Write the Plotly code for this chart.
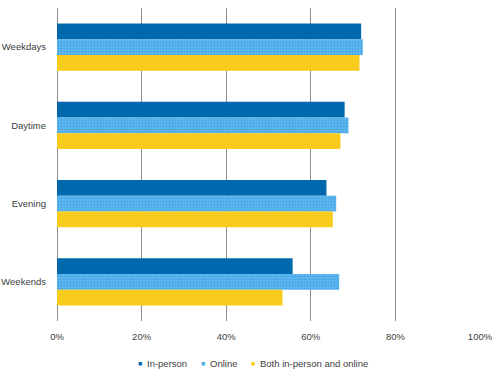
import plotly.graph_objects as go

categories = ["Weekdays", "Daytime", "Evening", "Weekends"]
in_person = [71.9, 68.0, 63.7, 55.7]
online = [72.3, 68.9, 66.0, 66.7]
both = [71.5, 67.0, 65.2, 53.3]
tick_vals = [0, 20, 40, 60, 80, 100]
tick_text = ["0%", "20%", "40%", "60%", "80%", "100%"]
series_names = ["In-person", "Online", "Both in-person and online"]
series_colors = ["#0068AC", "#4FAEEC", "#F9CB1C"]

W, H = 499, 380
ML, MR, MT, MB = 57, 19, 8, 59

fig = go.Figure()
fig.add_trace(go.Bar(y=categories, x=in_person, name=series_names[0], orientation="h",
                     marker=dict(color=series_colors[0], line=dict(width=0))))
fig.add_trace(go.Bar(y=categories, x=online, name=series_names[1], orientation="h",
                     marker=dict(color="#62BDF2", line=dict(width=0),
                                 pattern=dict(shape=".", fgcolor="#2F8FD8", size=3, solidity=0.5))))
fig.add_trace(go.Bar(y=categories, x=both, name=series_names[2], orientation="h",
                     marker=dict(color=series_colors[2], line=dict(width=0))))

pw = W - ML - MR
ph = H - MT - MB
def px_x(p):
    return (p - ML) / pw
def px_y(p):
    return (H - MB - p) / ph

legend_sq_x = [136, 199, 249]
legend_txt_x = [145, 208, 258]
legend_y = 363
annotations = []
for name, col, sx, tx in zip(series_names, series_colors, legend_sq_x, legend_txt_x):
    annotations.append(dict(xref="paper", yref="paper", x=px_x(sx), y=px_y(legend_y),
                            xanchor="left", yanchor="middle", showarrow=False,
                            text="■", font=dict(size=7, color=col)))
    annotations.append(dict(xref="paper", yref="paper", x=px_x(tx), y=px_y(legend_y),
                            xanchor="left", yanchor="middle", showarrow=False,
                            text=name, font=dict(size=9.5, color="#404040")))

fig.update_layout(
    width=W, height=H,
    margin=dict(l=ML, r=MR, t=MT, b=MB, autoexpand=False),
    paper_bgcolor="white", plot_bgcolor="white",
    barmode="group", bargap=0.395, bargroupgap=0,
    font=dict(family="Liberation Sans, Arial, sans-serif", size=9.5, color="#404040"),
    showlegend=False,
    annotations=annotations,
)
fig.update_xaxes(range=[0, 100], tickvals=tick_vals, ticktext=tick_text,
                 showgrid=True, gridcolor="#8C8C8C", gridwidth=1,
                 zeroline=True, zerolinecolor="#8C8C8C", zerolinewidth=1,
                 showline=False, ticks="", ticklabelstandoff=8, automargin=False,
                 tickfont=dict(size=9.5))
fig.update_yaxes(autorange="reversed", showgrid=False, zeroline=False,
                 showline=False, ticks="", ticklabelstandoff=10, automargin=False,
                 tickfont=dict(size=9.5))

fig.write_html("out.html", config={"displayModeBar": False},
               post_script="document.body.style.margin='0';")
